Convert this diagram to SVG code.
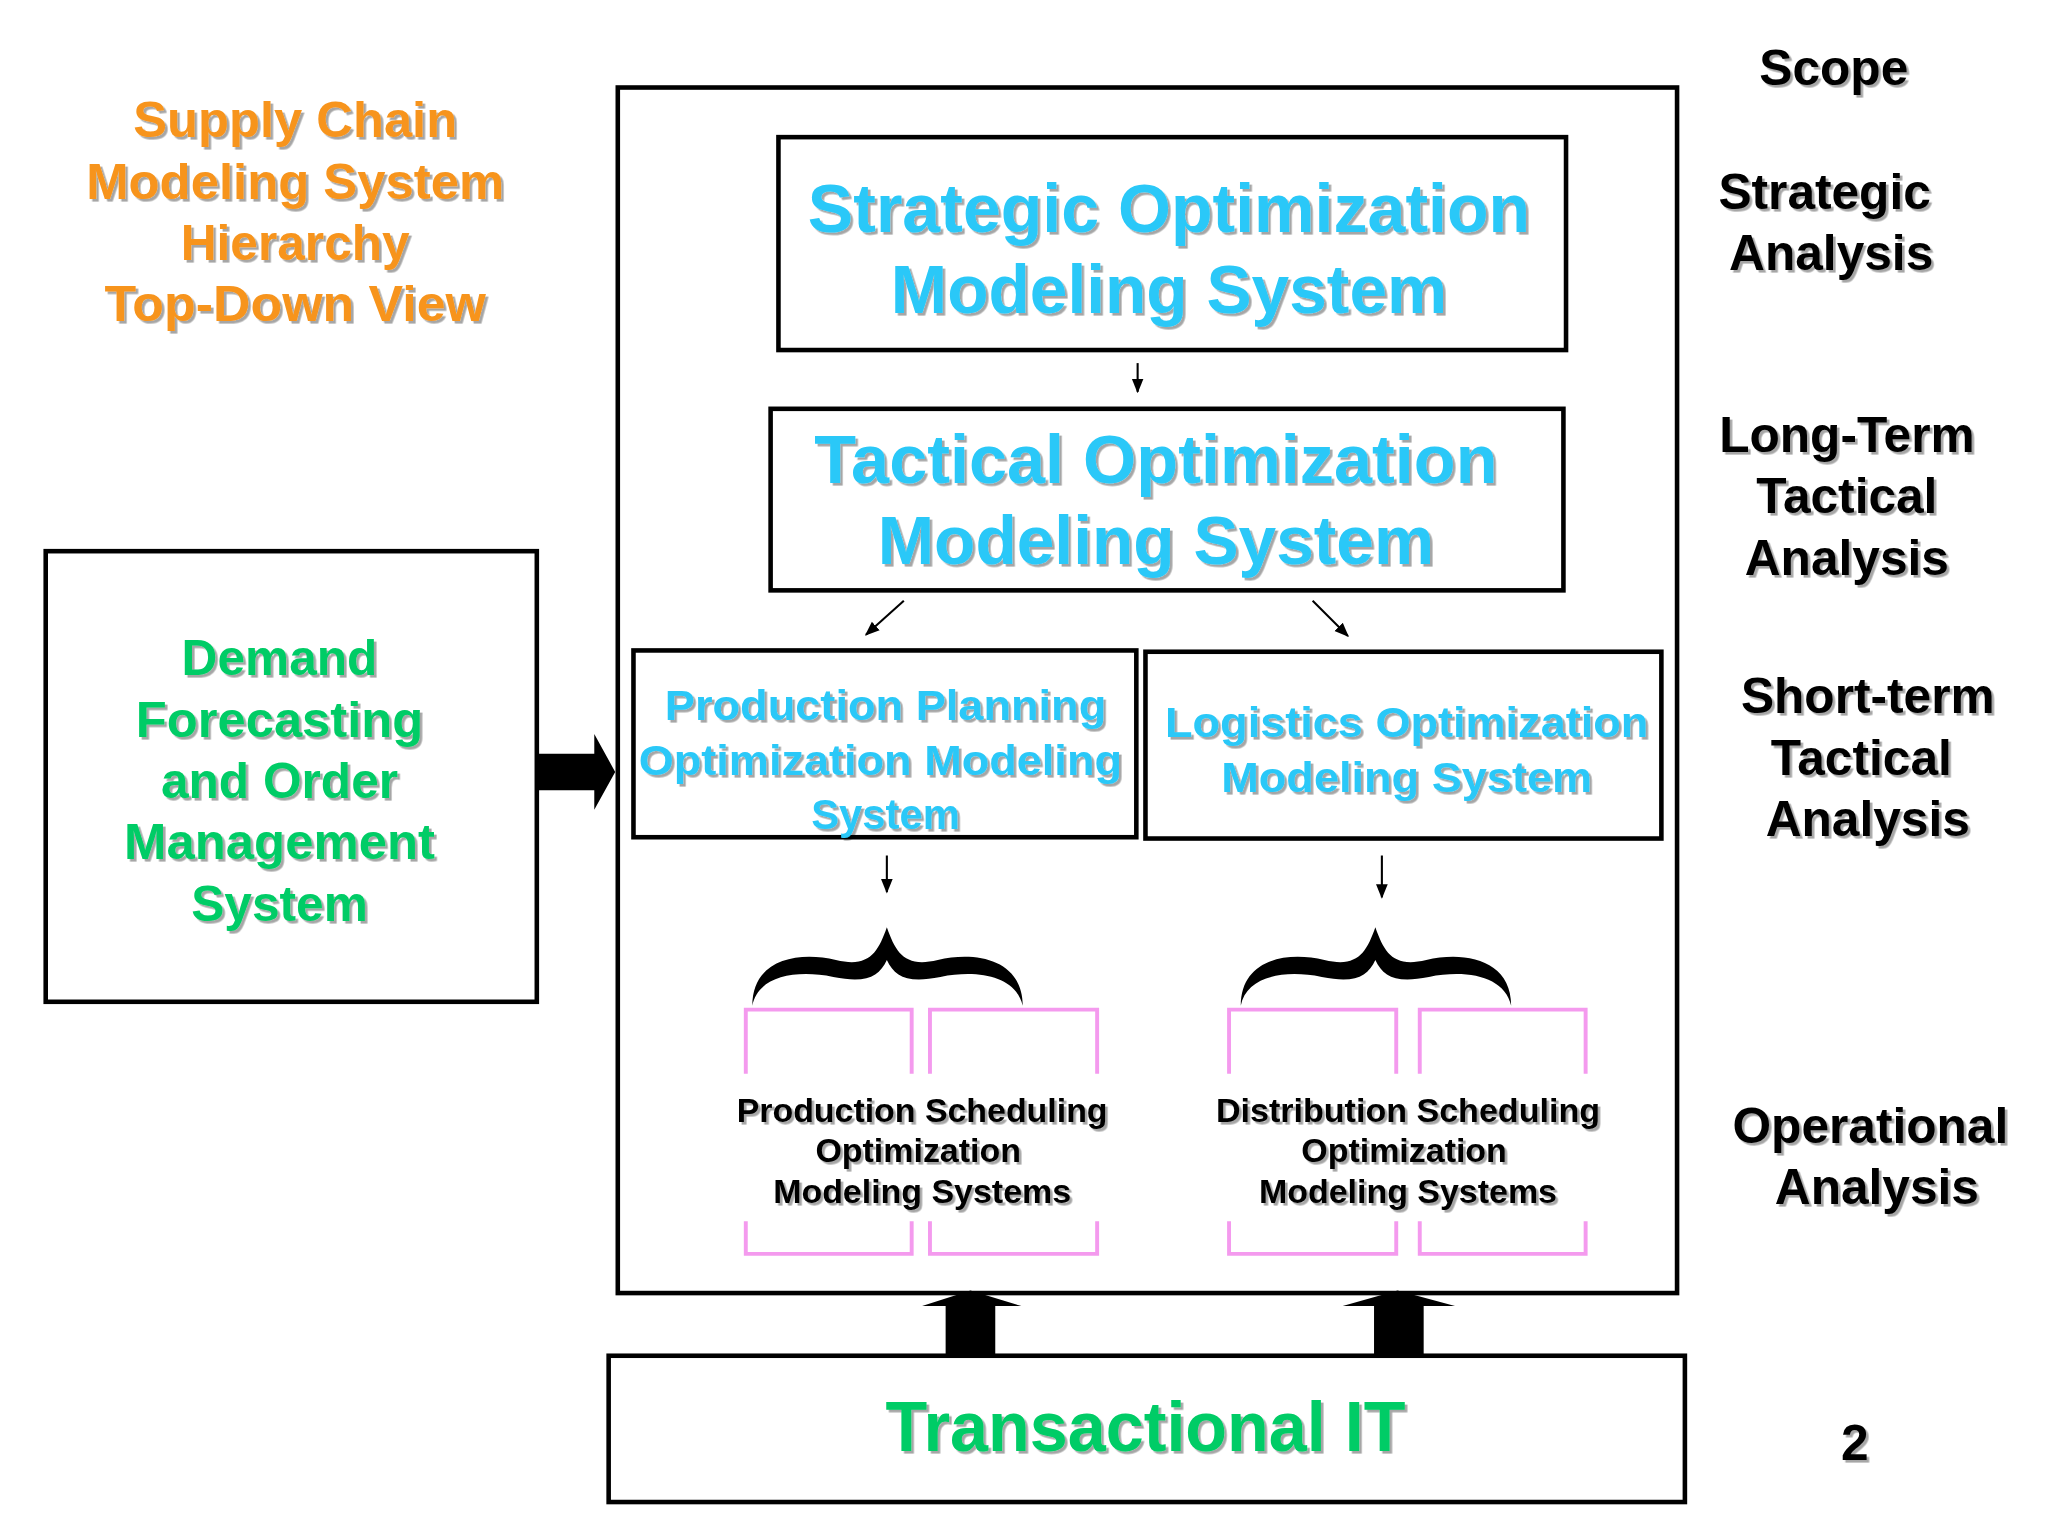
<svg xmlns="http://www.w3.org/2000/svg" width="2048" height="1536" viewBox="0 0 2048 1536">
<style>
text{font-family:"Liberation Sans",Arial,sans-serif;font-weight:bold;text-anchor:middle}
.sh{filter:url(#ds)}
.or{fill:#F7941D;font-size:38px}
.cy{fill:#29C8F8}
.gr{fill:#00CC66}
.bk{fill:#000}
.box{fill:none;stroke:#000;stroke-width:3.5}
.pk{fill:none;stroke:#F49AEE;stroke-width:3}
.thin{stroke:#000;stroke-width:1.6;fill:none}
</style>
<defs>
<filter id="ds" x="-5%" y="-5%" width="110%" height="120%"><feDropShadow dx="2" dy="2" stdDeviation="0.6" flood-color="#000" flood-opacity="0.35"/></filter>
<marker id="ah" viewBox="0 0 10 10" refX="9" refY="5" markerWidth="7" markerHeight="7" orient="auto"><path d="M0,1 L10,5 L0,9 z" fill="#000"/></marker>
</defs>
<rect width="2048" height="1536" fill="#fff"/>
<g transform="scale(1.30612)">
<g id="title" class="sh">
<text class="or" x="226" y="105" textLength="248" lengthAdjust="spacingAndGlyphs">Supply Chain</text>
<text class="or" x="226" y="152" textLength="320" lengthAdjust="spacingAndGlyphs">Modeling System</text>
<text class="or" x="226" y="199">Hierarchy</text>
<text class="or" x="226" y="246" textLength="292" lengthAdjust="spacingAndGlyphs">Top-Down View</text>
</g>
<g id="main"><rect class="box" x="473" y="67" width="811" height="923"/></g>
<g id="strategic"><rect class="box" x="596" y="105" width="603" height="163"/>
<text class="cy sh" x="895" y="178" font-size="52" textLength="553" lengthAdjust="spacingAndGlyphs">Strategic Optimization</text>
<text class="cy sh" x="895" y="240" font-size="52" textLength="426" lengthAdjust="spacingAndGlyphs">Modeling System</text></g>
<g id="tactical"><rect class="box" x="590" y="313" width="607" height="139"/>
<text class="cy sh" x="885" y="370" font-size="52" textLength="523" lengthAdjust="spacingAndGlyphs">Tactical Optimization</text>
<text class="cy sh" x="885" y="432" font-size="52" textLength="426" lengthAdjust="spacingAndGlyphs">Modeling System</text></g>
<g id="production"><rect class="box" x="485" y="498" width="385" height="143"/>
<text class="cy sh" x="678" y="551" font-size="32" textLength="338" lengthAdjust="spacingAndGlyphs">Production Planning</text>
<text class="cy sh" x="674" y="593" font-size="32" textLength="370" lengthAdjust="spacingAndGlyphs">Optimization Modeling</text>
<text class="cy sh" x="678" y="635" font-size="32">System</text></g>
<g id="logistics"><rect class="box" x="877" y="499" width="395" height="143"/>
<text class="cy sh" x="1077" y="564" font-size="32" textLength="370" lengthAdjust="spacingAndGlyphs">Logistics Optimization</text>
<text class="cy sh" x="1077" y="606" font-size="32" textLength="284" lengthAdjust="spacingAndGlyphs">Modeling System</text></g>
<g id="prodsched">
<path class="pk" d="M571,822 V773 H698 V822 M712,822 V773 H840 V822 M571,935 V960 H698 V935 M712,935 V960 H840 V935"/>
<text class="bk sh" x="706" y="859" font-size="26" textLength="284" lengthAdjust="spacingAndGlyphs">Production Scheduling</text>
<text class="bk sh" x="703" y="890" font-size="26">Optimization</text>
<text class="bk sh" x="706" y="921" font-size="26">Modeling Systems</text></g>
<g id="distsched">
<path class="pk" d="M941,822 V773 H1069 V822 M1087,822 V773 H1214 V822 M941,935 V960 H1069 V935 M1087,935 V960 H1214 V935"/>
<text class="bk sh" x="1078" y="859" font-size="26" textLength="294" lengthAdjust="spacingAndGlyphs">Distribution Scheduling</text>
<text class="bk sh" x="1075" y="890" font-size="26">Optimization</text>
<text class="bk sh" x="1078" y="921" font-size="26">Modeling Systems</text></g>
<g id="transactional"><rect class="box" x="466" y="1038" width="824" height="112"/>
<text class="gr sh" x="877" y="1111" font-size="54" textLength="398" lengthAdjust="spacingAndGlyphs">Transactional IT</text></g>
<g id="demand"><rect class="box" x="35" y="422" width="376" height="345"/>
<text class="gr sh" x="214" y="517" font-size="38">Demand</text>
<text class="gr sh" x="214" y="564" font-size="38" textLength="220" lengthAdjust="spacingAndGlyphs">Forecasting</text>
<text class="gr sh" x="214" y="611" font-size="38">and Order</text>
<text class="gr sh" x="214" y="658" font-size="38" textLength="238" lengthAdjust="spacingAndGlyphs">Management</text>
<text class="gr sh" x="214" y="705" font-size="38">System</text></g>
<g id="scope" class="sh">
<text class="bk" x="1404" y="65" font-size="38">Scope</text>
<text class="bk" x="1397" y="160" font-size="38">Strategic</text>
<text class="bk" x="1402" y="207" font-size="38">Analysis</text>
<text class="bk" x="1414" y="346" font-size="38">Long-Term</text>
<text class="bk" x="1414" y="393" font-size="38">Tactical</text>
<text class="bk" x="1414" y="440" font-size="38">Analysis</text>
<text class="bk" x="1430" y="546" font-size="38">Short-term</text>
<text class="bk" x="1425" y="593" font-size="38">Tactical</text>
<text class="bk" x="1430" y="640" font-size="38">Analysis</text>
<text class="bk" x="1432" y="875" font-size="38">Operational</text>
<text class="bk" x="1437" y="922" font-size="38">Analysis</text>
<text class="bk" x="1420" y="1118" font-size="38">2</text>
</g>
<g id="connectors">
<line class="thin" x1="871" y1="278" x2="871" y2="300" marker-end="url(#ah)"/>
<line class="thin" x1="692" y1="460" x2="663" y2="486" marker-end="url(#ah)"/>
<line class="thin" x1="1005" y1="460" x2="1032" y2="487" marker-end="url(#ah)"/>
<line class="thin" x1="679" y1="655" x2="679" y2="683" marker-end="url(#ah)"/>
<line class="thin" x1="1058" y1="655" x2="1058" y2="687" marker-end="url(#ah)"/>
<path d="M576,770 C576,735 610,728 640,735 C665,741 672,730 679,710 C686,730 693,741 718,735 C748,728 783,735 783,770 C778,748 750,742 720,748 C695,753 685,748 679,735 C673,748 663,753 638,748 C608,742 580,748 576,770 z" fill="#000"/>
<path d="M950,770 C950,735 984,728 1014,735 C1039,741 1046,730 1053,710 C1060,730 1067,741 1092,735 C1122,728 1157,735 1157,770 C1152,748 1124,742 1094,748 C1069,753 1059,748 1053,735 C1047,748 1037,753 1012,748 C982,742 954,748 950,770 z" fill="#000"/>
<path d="M411,577 H455 V562 L471,591 L455,620 V605 H411 z" fill="#000"/>
<path d="M724,1038 V1000 H706 L743,988 L782,1000 H762 V1038 z" fill="#000"/>
<path d="M1052,1038 V1000 H1028 L1070,988 L1114,1000 H1090 V1038 z" fill="#000"/>
</g>
</g>
</svg>
